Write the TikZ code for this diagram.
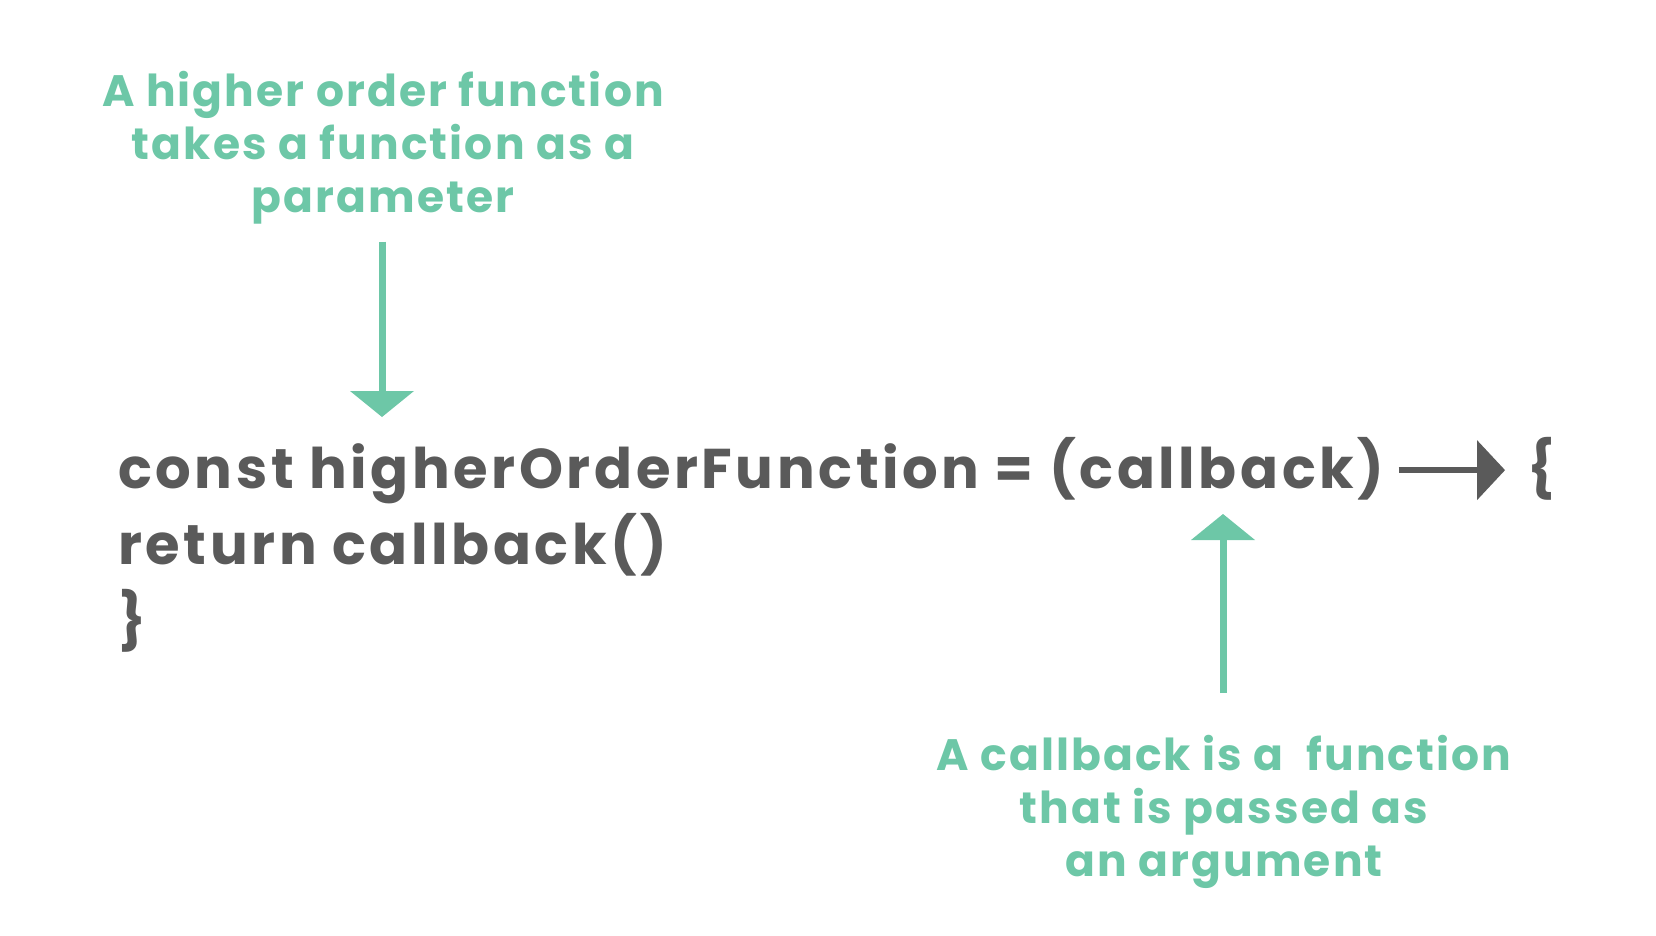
\documentclass[tikz,border=0pt]{standalone}
\usepackage{fontspec}
\setmainfont{Poppins}
\usetikzlibrary{arrows.meta}
\definecolor{mint}{HTML}{6DC7A7}
\definecolor{ink}{HTML}{5A5A5A}
\newcommand{\codesize}[0]{\fontsize{56}{76}\selectfont\bfseries\addfontfeatures{LetterSpace=6.4}}
\newcommand{\notesize}[0]{\fontsize{44}{53}\selectfont\bfseries\addfontfeatures{LetterSpace=4.8}}

\begin{document}
\begin{tikzpicture}[x=1pt, y=-1pt,
	note/.style={text=mint, font=\notesize, align=center, inner sep=0pt},
	code/.style={text=ink, font=\codesize, anchor=base west, inner sep=0pt},
	upper/.style={draw=mint, line width=7pt, -{Triangle[width=64pt,length=26pt,line width=0pt]}},
	flow/.style={draw=ink, line width=6pt, -{Triangle[width=60pt,length=28pt,line width=0pt]}}]
\useasboundingbox (0,0) rectangle (1656,936);
%The notes
	\node[note] (hof) at (383,148) {A higher order function\\takes a function as a\\parameter};
	\node[note] (cb) at (1224,812) {A callback is a \ function\\that is passed as\\an argument};
%The code
	\node[code] (line1) at (118,488) {const higherOrderFunction = (callback)};
	\node[code] (open) at (1527,488) {\{};
	\node[code] (line2) at (118,564) {return callback()};
	\node[code] (close) at (118,640) {\}};
%The arrows
	\coordinate (hoftip) at (382,417);
	\coordinate (cbtip) at (1223,514);
	\draw[upper, shorten <=17pt] (hof.south -| hoftip) -- (hoftip);
	\draw[upper, shorten <=42pt] (cb.north -| cbtip) -- (cbtip);
	\draw[flow, shorten <=14pt, shorten >=22pt] (line1.east) -- (line1.east -| open.west);
\end{tikzpicture}
\end{document}
